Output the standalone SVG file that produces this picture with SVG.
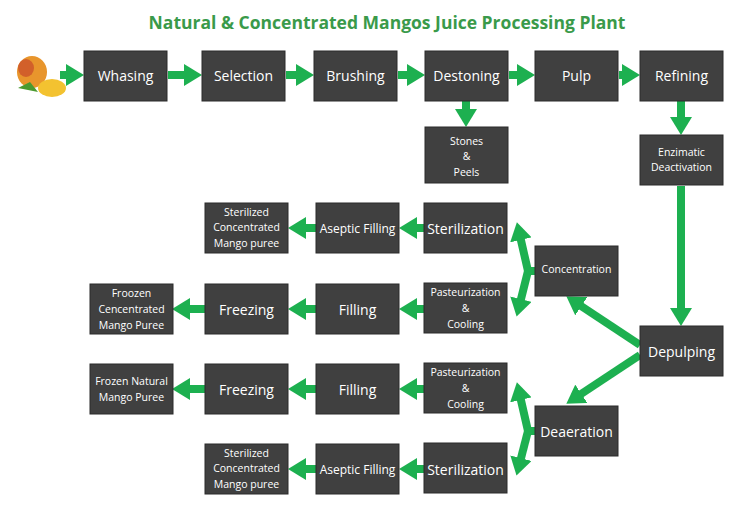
<svg xmlns="http://www.w3.org/2000/svg" width="750" height="509" viewBox="0 0 750 509">
<style>
.b{fill:#404040;stroke:#2a2a2a;stroke-width:1}
.t{fill:#fff;font-family:"Open Sans","Liberation Sans",sans-serif;text-anchor:middle;dominant-baseline:central}
.l{font-size:14px}.s{font-size:10.5px}
.c path{fill:none;stroke:#1db050;stroke-width:8;marker-end:url(#a);stroke-linejoin:miter}
</style>
<defs><marker id="a" markerUnits="userSpaceOnUse" markerWidth="18" markerHeight="22" refX="4" refY="11" orient="auto" viewBox="0 0 18 22"><path d="M0,0 L18,11 L0,22 Z" fill="#1db050"/></marker></defs>
<rect width="750" height="509" fill="#fff"/>
<text x="387" y="22" font-family="Open Sans,Liberation Sans,sans-serif" font-weight="bold" font-size="17.5" fill="#3a9a4a" text-anchor="middle" dominant-baseline="central">Natural &amp; Concentrated Mangos Juice Processing Plant</text>
<g id="mango">
<ellipse cx="32" cy="72" rx="15" ry="16" fill="#e8952c"/>
<ellipse cx="26" cy="68" rx="8" ry="9" fill="#d2602a"/>
<path d="M18,88 L30,82 L38,92 Z" fill="#4a9a30"/>
<ellipse cx="52" cy="88" rx="14" ry="9" fill="#f3c230"/>
</g>
<g class="c">
<path d="M60,75 H70"/><path d="M168,75 H188"/><path d="M286,75 H300"/><path d="M398,75 H411"/><path d="M509,75 H521"/><path d="M619,75 H626"/>
<path d="M466,101 V113"/><path d="M681,101 V121"/><path d="M681,186 V312"/>
<path d="M640,345 L578,304"/><path d="M640,355 L578,396"/>
<path d="M535,271 H528 L520,236"/><path d="M528,271 L520,303"/>
<path d="M535,431 H528 L520,396"/><path d="M528,431 L520,462"/>
<path d="M424,228 H413"/><path d="M424,309 H413"/><path d="M424,389 H413"/><path d="M424,469 H413"/>
<path d="M316,309 H302"/><path d="M316,389 H302"/><path d="M316,469 H302"/>
<path d="M205,309 H186"/><path d="M205,389 H186"/><path d="M316,228 H302"/>
</g>
<g id="n1"><rect class="b" x="84" y="51" width="83" height="50"/><text class="t l" x="125.5" y="75">Whasing</text></g>
<g id="n2"><rect class="b" x="202" y="51" width="83" height="50"/><text class="t l" x="243.5" y="75">Selection</text></g>
<g id="n3"><rect class="b" x="314" y="51" width="83" height="50"/><text class="t l" x="355.5" y="75">Brushing</text></g>
<g id="n4"><rect class="b" x="425" y="51" width="83" height="50"/><text class="t l" x="466.5" y="75">Destoning</text></g>
<g id="n5"><rect class="b" x="535" y="51" width="83" height="50"/><text class="t l" x="576.5" y="75">Pulp</text></g>
<g id="n6"><rect class="b" x="640" y="51" width="83" height="50"/><text class="t l" x="681.5" y="75">Refining</text></g>
<g id="n7"><rect class="b" x="425" y="127" width="83" height="56"/><text class="t s" x="466.5" y="141">Stones</text><text class="t s" x="466.5" y="156">&amp;</text><text class="t s" x="466.5" y="172">Peels</text></g>
<g id="n8"><rect class="b" x="640" y="135" width="83" height="50"/><text class="t s" x="681.5" y="152">Enzimatic</text><text class="t s" x="681.5" y="167">Deactivation</text></g>
<g id="n9"><rect class="b" x="424" y="203" width="83" height="50"/><text class="t l" x="465.5" y="228">Sterilization</text></g>
<g id="n10"><rect class="b" x="535" y="246" width="83" height="50"/><text class="t s" x="576.5" y="269">Concentration</text></g>
<g id="n11"><rect class="b" x="424" y="283" width="83" height="50"/><text class="t s" x="465.5" y="292">Pasteurization</text><text class="t s" x="465.5" y="308">&amp;</text><text class="t s" x="465.5" y="324">Cooling</text></g>
<g id="n12"><rect class="b" x="640" y="326" width="83" height="50"/><text class="t l" x="681.5" y="351">Depulping</text></g>
<g id="n13"><rect class="b" x="424" y="363" width="83" height="50"/><text class="t s" x="465.5" y="372">Pasteurization</text><text class="t s" x="465.5" y="388">&amp;</text><text class="t s" x="465.5" y="404">Cooling</text></g>
<g id="n14"><rect class="b" x="535" y="406" width="83" height="50"/><text class="t l" x="576.5" y="431">Deaeration</text></g>
<g id="n15"><rect class="b" x="424" y="443" width="83" height="50"/><text class="t l" x="465.5" y="469">Sterilization</text></g>
<g id="n16"><rect class="b" x="316" y="203" width="83" height="50"/><text class="t" font-size="12" x="357.5" y="228">Aseptic Filling</text></g>
<g id="n17"><rect class="b" x="205" y="203" width="83" height="50"/><text class="t s" x="246.5" y="212">Sterilized</text><text class="t s" x="246.5" y="227">Concentrated</text><text class="t s" x="246.5" y="243">Mango puree</text></g>
<g id="n18"><rect class="b" x="316" y="284" width="83" height="50"/><text class="t l" x="357.5" y="309">Filling</text></g>
<g id="n19"><rect class="b" x="205" y="284" width="83" height="50"/><text class="t l" x="246.5" y="309">Freezing</text></g>
<g id="n20"><rect class="b" x="90" y="284" width="83" height="50"/><text class="t s" x="131.5" y="293">Froozen</text><text class="t s" x="131.5" y="309">Cencentrated</text><text class="t s" x="131.5" y="325">Mango Puree</text></g>
<g id="n21"><rect class="b" x="316" y="364" width="83" height="50"/><text class="t l" x="357.5" y="389">Filling</text></g>
<g id="n22"><rect class="b" x="205" y="364" width="83" height="50"/><text class="t l" x="246.5" y="389">Freezing</text></g>
<g id="n23"><rect class="b" x="90" y="364" width="83" height="50"/><text class="t s" x="131.5" y="381">Frozen Natural</text><text class="t s" x="131.5" y="397">Mango Puree</text></g>
<g id="n24"><rect class="b" x="316" y="444" width="83" height="50"/><text class="t" font-size="12" x="357.5" y="469">Aseptic Filling</text></g>
<g id="n25"><rect class="b" x="205" y="444" width="83" height="50"/><text class="t s" x="246.5" y="453">Sterilized</text><text class="t s" x="246.5" y="468">Concentrated</text><text class="t s" x="246.5" y="484">Mango puree</text></g>
</svg>
